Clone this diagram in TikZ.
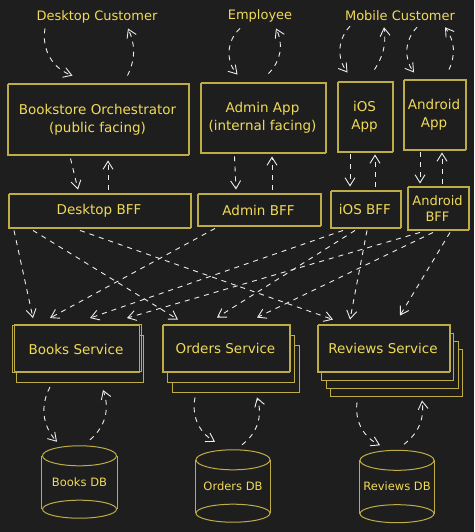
\documentclass[tikz,border=0pt]{standalone}
\usepackage{fontspec}
\setmainfont{DejaVu Sans}
\usetikzlibrary{arrows.meta,shadows,calc}

\definecolor{bgcol}{RGB}{30,30,30}
\definecolor{boxcol}{RGB}{190,172,70}
\definecolor{txtcol}{RGB}{240,218,88}
\definecolor{arrcol}{RGB}{236,236,236}

\tikzset{
  sketch/.style={draw=boxcol, line width=0.9pt, fill=bgcol, text=txtcol, align=center,
    font=\fontsize{13.5}{18}\selectfont, inner sep=2pt,
    postaction={draw=boxcol, line width=0.5pt, transform canvas={shift={(1.3pt,1pt)}}}},
  actor/.style={text=txtcol, font=\fontsize{13}{15}\selectfont, inner sep=1pt},
  flow/.style={draw=arrcol, line width=0.9pt, dash pattern=on 5pt off 5pt,
    -{Straight Barb[length=8pt,width=10pt,line width=0.9pt]}},
  db/.style={text=txtcol, font=\fontsize{11.5}{13}\selectfont, minimum width=75pt, minimum height=72pt, inner sep=0pt},
  dbline/.style={draw=boxcol, line width=1pt},
}

\begin{document}
\begin{tikzpicture}[x=1pt,y=-1pt]
    \fill[bgcol] (0,0) rectangle (474,532);
    \useasboundingbox (0,0) rectangle (474,532);

    % users
    \node[actor] (dcust) at (97,17) {Desktop Customer};
    \node[actor] (empl) at (260,16) {Employee};
    \node[actor] (mcust) at (400,16) {Mobile Customer};

    % front ends
    \node[sketch, minimum width=181pt, minimum height=71pt] (orch) at (97.5,119.5) {Bookstore Orchestrator\\(public facing)};
    \node[sketch, minimum width=125pt, minimum height=70pt] (admin) at (262.5,118) {Admin App\\(internal facing)};
    \node[sketch, minimum width=55pt, minimum height=70pt] (ios) at (364.5,117) {iOS\\App};
    \node[sketch, minimum width=62pt, minimum height=70pt] (android) at (434,115) {Android\\App};

    % BFF layer
    \node[sketch, minimum width=182pt, minimum height=34pt] (dbff) at (99,211) {Desktop BFF};
    \node[sketch, minimum width=123pt, minimum height=32pt] (abff) at (258.5,210) {Admin BFF};
    \node[sketch, minimum width=70pt, minimum height=37pt] (ibff) at (365,209.5) {iOS BFF};
    \node[sketch, minimum width=61pt, minimum height=43pt, font=\fontsize{13}{16}\selectfont] (andbff) at (437.5,208.5) {Android\\BFF};

    % services
    \node[sketch, minimum width=127pt, minimum height=47pt,
      copy shadow={shadow xshift=4pt, shadow yshift=-10pt}] (books) at (76,349) {Books Service};
    \node[sketch, minimum width=127pt, minimum height=47pt,
      double copy shadow={shadow xshift=5pt, shadow yshift=-10pt}] (orders) at (225.5,348.5) {Orders Service};
    \node[sketch, minimum width=132pt, minimum height=47pt,
      copy shadow={shadow xshift=13.5pt, shadow yshift=-24pt},
      double copy shadow={shadow xshift=4.5pt, shadow yshift=-8pt}] (reviews) at (383,348.5) {Reviews Service};

    % databases
    \node[db] (booksdb) at (79.5,482) {Books DB};
    \node[db] (ordersdb) at (233,486) {Orders DB};
    \node[db] (reviewsdb) at (397,486.5) {Reviews DB};
    \foreach \n in {booksdb,ordersdb,reviewsdb} {
        \draw[dbline] ($(\n.north)+(0,10)$) ellipse [x radius=37pt, y radius=10pt];
        \draw[dbline] ($(\n.south)+(0,-9)$) ellipse [x radius=37pt, y radius=9pt];
        \draw[dbline] ($(\n.north west)+(0,10)$) -- ($(\n.south west)+(0,-9)$);
        \draw[dbline] ($(\n.north east)+(0,10)$) -- ($(\n.south east)+(0,-9)$);
    }

    % users <-> apps
    \draw[flow] ([xshift=-52pt,yshift=-4pt]dcust.south) to[bend right=40] ([xshift=-25pt,yshift=8pt]orch.north);
    \draw[flow] ([xshift=30pt,yshift=8pt]orch.north) to[bend right=25] ([xshift=31pt,yshift=-4pt]dcust.south);
    \draw[flow] ([xshift=-20pt,yshift=-5pt]empl.south) to[bend right=45] ([xshift=-25pt,yshift=8pt]admin.north);
    \draw[flow] ([xshift=6pt,yshift=9pt]admin.north) to[bend right=35] ([xshift=16pt,yshift=-5pt]empl.south);
    \draw[flow] ([xshift=-50pt,yshift=-4pt]mcust.south) to[bend right=40] ([xshift=-17pt,yshift=9pt]ios.north);
    \draw[flow] ([xshift=10pt,yshift=12pt]ios.north) to[bend right=20] ([xshift=-16pt,yshift=-5pt]mcust.south);
    \draw[flow] ([xshift=17pt,yshift=-5pt]mcust.south) to[bend right=40] ([xshift=-20pt,yshift=7pt]android.north);
    \draw[flow] ([xshift=15pt,yshift=10pt]android.north) to[bend right=30] ([xshift=45pt,yshift=-5pt]mcust.south);

    % apps <-> BFFs
    \draw[flow] ([xshift=-27pt,yshift=-3pt]orch.south) -- ([xshift=-21pt,yshift=4pt]dbff.north);
    \draw[flow] ([xshift=9pt,yshift=4pt]dbff.north) -- ([xshift=10.5pt,yshift=-5pt]orch.south);
    \draw[flow] ([xshift=-28pt,yshift=-3pt]admin.south) -- ([xshift=-22.5pt,yshift=4pt]abff.north);
    \draw[flow] ([xshift=13.5pt,yshift=4pt]abff.north) -- ([xshift=9.5pt,yshift=-3pt]admin.south);
    \draw[flow] ([xshift=-14.5pt,yshift=-2pt]ios.south) -- ([xshift=-15pt,yshift=4pt]ibff.north);
    \draw[flow] ([xshift=10pt,yshift=4pt]ibff.north) -- ([xshift=10.5pt,yshift=-2pt]ios.south);
    \draw[flow] ([xshift=-14pt,yshift=-2pt]android.south) -- ([xshift=-17.5pt,yshift=3pt]andbff.north);
    \draw[flow] ([xshift=4.5pt,yshift=3pt]andbff.north) -- ([xshift=8pt,yshift=-2pt]android.south);

    % BFFs -> services
    \draw[flow] ([xshift=-85pt,yshift=-2pt]dbff.south) -- ([xshift=-43pt,yshift=7pt]books.north);
    \draw[flow] ([xshift=-66pt,yshift=-2pt]dbff.south) -- ([xshift=-47.5pt,yshift=5pt]orders.north);
    \draw[flow] ([xshift=-19pt,yshift=-2pt]dbff.south) -- ([xshift=-50pt,yshift=5pt]reviews.north);
    \draw[flow] ([xshift=-43.5pt,yshift=-2pt]abff.south) -- ([xshift=-26pt,yshift=7pt]books.north);
    \draw[flow] ([xshift=-22pt,yshift=-2pt]ibff.south) -- ([xshift=14pt,yshift=7pt]books.north);
    \draw[flow] ([xshift=-10pt,yshift=-2pt]ibff.south) -- ([xshift=-8.5pt,yshift=7pt]orders.north);
    \draw[flow] ([xshift=2pt,yshift=-2pt]ibff.south) -- ([xshift=-33pt,yshift=5pt]reviews.north);
    \draw[flow] ([xshift=-17.5pt,yshift=-2pt]andbff.south) -- ([xshift=51pt,yshift=7pt]books.north);
    \draw[flow] ([xshift=-4.5pt,yshift=-2pt]andbff.south) -- ([xshift=31.5pt,yshift=7pt]orders.north);
    \draw[flow] ([xshift=12.5pt,yshift=-2pt]andbff.south) -- ([xshift=17pt,yshift=9pt]reviews.north);

    % services <-> databases
    \draw[flow] ([xshift=-26pt,yshift=-14pt]books.south) to[bend right=35] ([xshift=-22.5pt,yshift=4pt]booksdb.north);
    \draw[flow] ([xshift=10.5pt,yshift=6pt]booksdb.north) to[bend right=35] ([xshift=27pt,yshift=-17pt]books.south);
    \draw[flow] ([xshift=-30.5pt,yshift=-25pt]orders.south) to[bend right=35] ([xshift=-18pt,yshift=8pt]ordersdb.north);
    \draw[flow] ([xshift=9pt,yshift=5pt]ordersdb.north) to[bend right=35] ([xshift=31.5pt,yshift=-25pt]orders.south);
    \draw[flow] ([xshift=-26pt,yshift=-30pt]reviews.south) to[bend right=35] ([xshift=-17pt,yshift=5pt]reviewsdb.north);
    \draw[flow] ([xshift=7pt,yshift=6pt]reviewsdb.north) to[bend right=30] ([xshift=39pt,yshift=-28pt]reviews.south);
\end{tikzpicture}
\end{document}
